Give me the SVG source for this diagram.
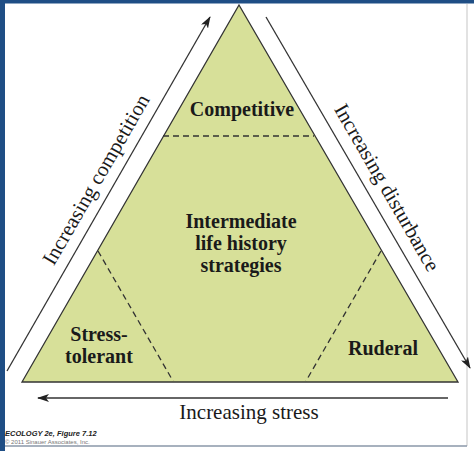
<svg xmlns="http://www.w3.org/2000/svg" width="474" height="451" viewBox="0 0 474 451">
<style>
.lbl{font-family:"Liberation Serif","Times New Roman",serif;font-weight:bold;font-size:20px;fill:#1a1a1a;text-anchor:middle}
.ax{font-family:"Liberation Serif","Times New Roman",serif;font-size:21px;fill:#1a1a1a;text-anchor:middle}
.dash{stroke:#333;stroke-width:1.3;stroke-dasharray:6 4;fill:none}
.conn{stroke:#333;stroke-width:1.3;fill:none}
</style>
<defs>
<marker id="ah" viewBox="0 0 12 8" refX="11" refY="4" markerWidth="12" markerHeight="8" markerUnits="userSpaceOnUse" orient="auto">
<path d="M0,0 L12,4 L0,8 L3,4 Z" fill="#222"/>
</marker>
</defs>
<rect x="0" y="0" width="474" height="451" fill="#fff"/>
<rect x="0" y="0" width="474" height="3.5" fill="#1f4e85"/>
<rect x="0" y="0" width="5" height="451" fill="#1f4e85"/>
<line x1="467" y1="4" x2="467" y2="446" stroke="#d8d8d8" stroke-width="1.5"/>
<line x1="5" y1="446" x2="467" y2="446" stroke="#8a97a8" stroke-width="1.5"/>
<g id="triangle">
<polygon points="239,5 458,382 22,382" fill="#d7e099" stroke="#333" stroke-width="1.3"/>
</g>
<g id="boundaries">
<line class="dash" x1="163" y1="136" x2="314" y2="136"/>
<line class="dash" x1="98" y1="251" x2="173" y2="381"/>
<line class="dash" x1="381" y1="251" x2="306" y2="381"/>
</g>
<g id="competitive"><text class="lbl" x="242" y="116">Competitive</text></g>
<g id="intermediate">
<text class="lbl" x="241" y="228">Intermediate</text>
<text class="lbl" x="241" y="250">life history</text>
<text class="lbl" x="241" y="272">strategies</text>
</g>
<g id="stress-tolerant">
<text class="lbl" x="99" y="341">Stress-</text>
<text class="lbl" x="99" y="363">tolerant</text>
</g>
<g id="ruderal"><text class="lbl" x="383" y="355">Ruderal</text></g>
<g id="connectors">
<line class="conn" x1="7" y1="371" x2="210" y2="17" marker-end="url(#ah)"/>
<line class="conn" x1="266" y1="17" x2="470" y2="368" marker-end="url(#ah)"/>
<line class="conn" x1="448" y1="398" x2="38" y2="398" marker-end="url(#ah)"/>
</g>
<g id="axis-labels">
<text class="ax" transform="translate(102,183) rotate(-60)">Increasing competition</text>
<text class="ax" transform="translate(381,191) rotate(60)">Increasing disturbance</text>
<text class="ax" x="249" y="419">Increasing stress</text>
</g>
<g id="caption">
<text x="5" y="436" font-family="'Liberation Sans',Arial,sans-serif" font-size="7.5" font-weight="bold" font-style="italic" fill="#222">ECOLOGY 2e, Figure 7.12</text>
<text x="5" y="444" font-family="'Liberation Sans',Arial,sans-serif" font-size="6" fill="#777">© 2011 Sinauer Associates, Inc.</text>
</g>
</svg>
